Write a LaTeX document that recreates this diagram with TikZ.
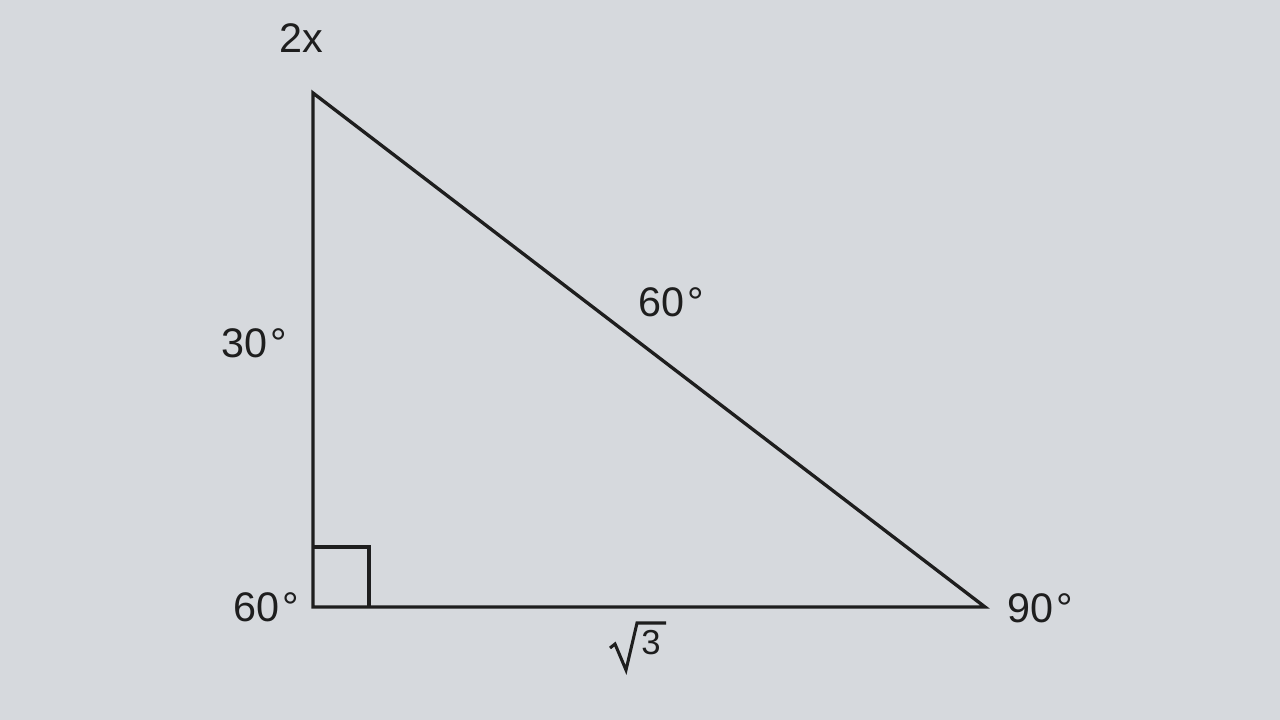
\documentclass[tikz,border=0pt]{standalone}
\usepackage{fontspec}
\setmainfont{Liberation Sans}
\definecolor{paper}{HTML}{D6D9DD}
\definecolor{ink}{HTML}{1E1E1E}
\tikzset{
  side/.style={line width=2.5pt, draw=ink, line join=miter},
  angle label/.style={font=\fontsize{31}{36}\selectfont, text=ink, inner sep=0pt},
  root label/.style={font=\fontsize{26}{30}\selectfont, text=ink, inner sep=0pt},
  radical/.style={line width=2.3pt, draw=ink, line join=miter},
}
\newcommand\degmark{\hspace{2pt}°}

\begin{document}
\begin{tikzpicture}[x=0.75pt,y=-0.75pt]
\fill[paper] (0,0) rectangle (1280,720);
\useasboundingbox (0,0) rectangle (1280,720);
\coordinate (top) at (313,93);
\coordinate (corner) at (313,607);
\coordinate (tip) at (985,607);
\draw[side] (top) -- (corner) -- (tip) -- cycle;
\draw[side] ([yshift=45pt]corner) -| ([xshift=42pt]corner);
\node[angle label] (top label) at (301,38) {2x};
\node[angle label] (left label) at (254,343) {30\degmark};
\node[angle label] (slope label) at (671,302) {60\degmark};
\node[angle label] (corner label) at (266,607) {60\degmark};
\node[angle label] (tip label) at (1040,608) {90\degmark};
% square root sign drawn by hand
\node[root label] (base label) at (651,643) {3};
\draw[radical] (610,648) -- (615,644) -- (626,670) -- (637,623) -- (666,623);
\end{tikzpicture}
\end{document}
